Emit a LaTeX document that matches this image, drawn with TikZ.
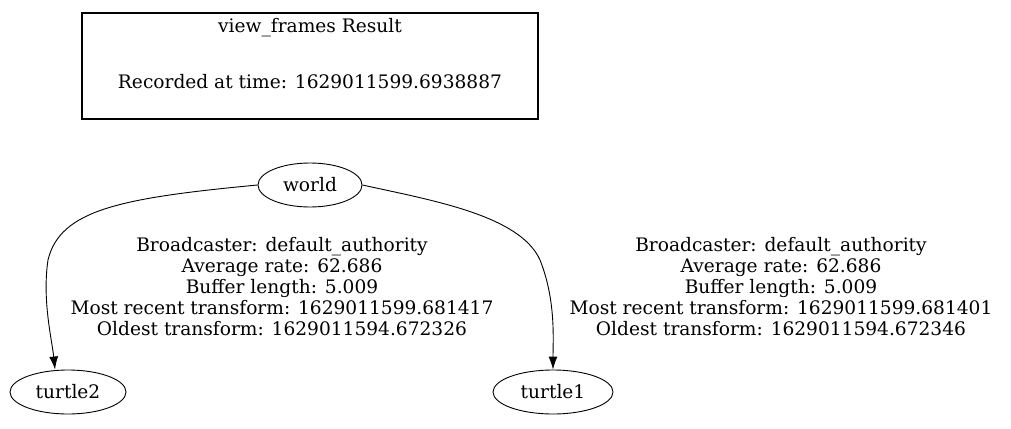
\documentclass[tikz,border=0pt]{standalone}
\usepackage{fontspec}
\setmainfont{DejaVu Serif}
\usetikzlibrary{shapes.geometric,arrows.meta}
\begin{document}
\begin{tikzpicture}[x=1pt,y=-1pt,
  every node/.style={font=\fontsize{18.6}{21}\selectfont},
  el/.style={draw,ellipse,line width=0.9pt,inner sep=0pt},
  lab/.style={align=center,inner sep=0pt},
  edge/.style={line width=0.9pt,-{Latex[length=13pt,width=9pt]}}]
\useasboundingbox (0,0) rectangle (1011,428);
\node[draw,line width=1.8pt,minimum width=456pt,minimum height=106pt,inner sep=0pt] (box) at (310,66) {};
\node[lab] (t1) at (310,28) {view\_frames Result};
\node[lab] (t2) at (310,82) {Recorded at time: 1629011599.6938887};
\node[el,minimum width=104pt,minimum height=44pt] (world) at (310,185) {world};
\node[el,minimum width=116pt,minimum height=44pt] (turtle2) at (68,392) {turtle2};
\node[el,minimum width=120pt,minimum height=44pt] (turtle1) at (553,392) {turtle1};
\node[lab] (l1) at (282,287) {Broadcaster: default\_authority\\Average rate: 62.686\\Buffer length: 5.009\\Most recent transform: 1629011599.681417\\Oldest transform: 1629011594.672326};
\node[lab] (l2) at (781,287) {Broadcaster: default\_authority\\Average rate: 62.686\\Buffer length: 5.009\\Most recent transform: 1629011599.681401\\Oldest transform: 1629011594.672346};
\draw[edge] (world.west) .. controls (120,198) and (60,210) .. (48,260) .. controls (42,300) and (52,340) .. (turtle2.north -| 55,0);
\draw[edge] (world.east) .. controls (430,200) and (520,215) .. (540,260) .. controls (556,300) and (553,340) .. (turtle1.north);
\end{tikzpicture}
\end{document}
